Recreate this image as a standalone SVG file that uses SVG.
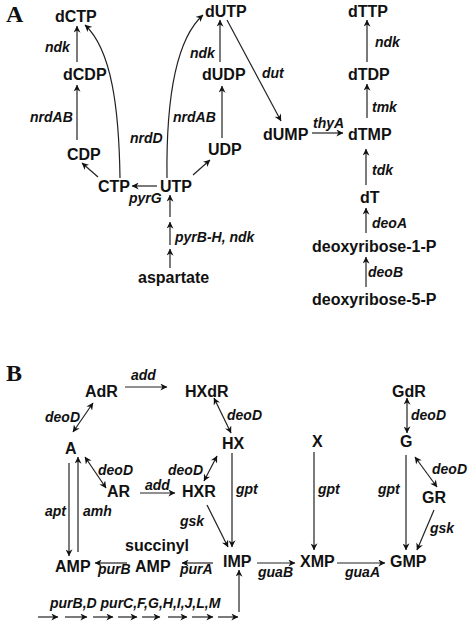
<svg xmlns="http://www.w3.org/2000/svg" width="474" height="626" viewBox="0 0 474 626">
<style>
.n{font-family:"Liberation Sans",Arial,sans-serif;font-weight:bold;font-size:16px;fill:#111}
.e{font-family:"Liberation Sans",Arial,sans-serif;font-weight:bold;font-style:italic;font-size:14px;fill:#111}
.p{font-family:"Liberation Serif","Times New Roman",serif;font-weight:bold;font-size:24px;fill:#111}
.c path,.c line{fill:none;stroke:#222;stroke-width:1.2}
.a{marker-end:url(#ah)}
.d{marker-start:url(#ah);marker-end:url(#ah)}
</style>
<defs>
<marker id="ah" viewBox="0 0 10 10" refX="9.5" refY="5" markerWidth="8" markerHeight="7" markerUnits="userSpaceOnUse" orient="auto-start-reverse">
<path d="M0,0 L10,5 L0,10 L3,5 z" fill="#111"/>
</marker>
</defs>
<rect width="474" height="626" fill="#fff"/>
<text class="p" x="6" y="22">A</text>
<text class="p" x="6" y="381">B</text>
<g class="c" id="connectors">
<line class="a" x1="77" y1="62" x2="77" y2="26"/>
<line class="a" x1="77" y1="140" x2="77" y2="85"/>
<line class="a" x1="98" y1="177" x2="82" y2="163"/>
<line class="a" x1="157" y1="186" x2="132" y2="186"/>
<line class="a" x1="193" y1="175" x2="210" y2="160"/>
<path class="a" d="M120,178 C119,110 112,50 85,25"/>
<path class="a" d="M167,178 C166,100 175,40 203,15"/>
<line class="a" x1="220" y1="62" x2="220" y2="20"/>
<line class="a" x1="222" y1="138" x2="222" y2="86"/>
<line class="a" x1="227" y1="20" x2="281" y2="121"/>
<line class="a" x1="312" y1="133" x2="343" y2="133"/>
<line class="a" x1="367" y1="62" x2="367" y2="20"/>
<line class="a" x1="367" y1="118" x2="367" y2="84"/>
<line class="a" x1="366" y1="185" x2="366" y2="149"/>
<line class="a" x1="366" y1="233" x2="366" y2="208"/>
<line class="a" x1="366" y1="287" x2="366" y2="257"/>
<line class="a" x1="170" y1="217" x2="170" y2="195"/>
<line class="a" x1="170" y1="245" x2="170" y2="222"/>
<line class="a" x1="170" y1="268" x2="170" y2="249"/>
<line class="a" x1="125" y1="387" x2="167" y2="387"/>
<line class="d" x1="93" y1="403" x2="73" y2="432"/>
<line class="d" x1="214" y1="398" x2="231" y2="433"/>
<line class="d" x1="85" y1="457" x2="106" y2="488"/>
<line class="a" x1="140" y1="493" x2="175" y2="493"/>
<line class="d" x1="204" y1="481" x2="217" y2="456"/>
<line class="a" x1="232" y1="453" x2="232" y2="547"/>
<line class="a" x1="207" y1="505" x2="228" y2="547"/>
<line class="a" x1="69" y1="463" x2="69" y2="556"/>
<line class="a" x1="78" y1="552" x2="78" y2="457"/>
<line class="a" x1="127" y1="563" x2="95" y2="563"/>
<line class="a" x1="213" y1="563" x2="182" y2="563"/>
<line class="a" x1="257" y1="563" x2="295" y2="563"/>
<line class="a" x1="337" y1="563" x2="385" y2="563"/>
<line class="a" x1="314" y1="452" x2="314" y2="550"/>
<line class="d" x1="407" y1="398" x2="407" y2="433"/>
<line class="a" x1="406" y1="455" x2="406" y2="550"/>
<line class="d" x1="415" y1="457" x2="437" y2="487"/>
<line class="a" x1="434" y1="510" x2="417" y2="550"/>
<line class="a" x1="38" y1="617" x2="58" y2="617"/>
<line class="a" x1="65" y1="617" x2="87" y2="617"/>
<line class="a" x1="93" y1="617" x2="113" y2="617"/>
<line class="a" x1="118" y1="617" x2="137" y2="617"/>
<line class="a" x1="142" y1="617" x2="160" y2="617"/>
<line class="a" x1="168" y1="617" x2="187" y2="617"/>
<line class="a" x1="192" y1="617" x2="213" y2="617"/>
<line class="a" x1="218" y1="617" x2="238" y2="617"/>
<line class="a" x1="239" y1="612" x2="239" y2="570"/>
</g>
<g id="labels">
<text class="e" x="45" y="52">ndk</text>
<text class="e" x="30" y="122">nrdAB</text>
<text class="e" x="130" y="143">nrdD</text>
<text class="e" x="129" y="203">pyrG</text>
<text class="e" x="173" y="122">nrdAB</text>
<text class="e" x="190" y="58">ndk</text>
<text class="e" x="262" y="78">dut</text>
<text class="e" x="313" y="128">thyA</text>
<text class="e" x="375" y="47">ndk</text>
<text class="e" x="372" y="112">tmk</text>
<text class="e" x="372" y="175">tdk</text>
<text class="e" x="372" y="228">deoA</text>
<text class="e" x="368" y="277">deoB</text>
<text class="e" x="175" y="242">pyrB-H, ndk</text>
<text class="e" x="131" y="380">add</text>
<text class="e" x="45" y="422">deoD</text>
<text class="e" x="98" y="475">deoD</text>
<text class="e" x="145" y="490">add</text>
<text class="e" x="168" y="475">deoD</text>
<text class="e" x="227" y="420">deoD</text>
<text class="e" x="236" y="494">gpt</text>
<text class="e" x="180" y="526">gsk</text>
<text class="e" x="45" y="516">apt</text>
<text class="e" x="83" y="516">amh</text>
<text class="e" x="98" y="574">purB</text>
<text class="e" x="180" y="574">purA</text>
<text class="e" x="258" y="577">guaB</text>
<text class="e" x="345" y="577">guaA</text>
<text class="e" x="318" y="494">gpt</text>
<text class="e" x="411" y="420">deoD</text>
<text class="e" x="378" y="494">gpt</text>
<text class="e" x="432" y="474">deoD</text>
<text class="e" x="430" y="533">gsk</text>
<text class="e" x="50" y="608">purB,D purC,F,G,H,I,J,L,M</text>
</g>
<g id="dCTP"><text class="n" x="55" y="22">dCTP</text></g>
<g id="dCDP"><text class="n" x="63" y="80">dCDP</text></g>
<g id="CDP"><text class="n" x="67" y="160">CDP</text></g>
<g id="CTP"><text class="n" x="98" y="192">CTP</text></g>
<g id="UTP"><text class="n" x="160" y="192">UTP</text></g>
<g id="UDP"><text class="n" x="208" y="155">UDP</text></g>
<g id="dUTP"><text class="n" x="205" y="17">dUTP</text></g>
<g id="dUDP"><text class="n" x="202" y="80">dUDP</text></g>
<g id="dUMP"><text class="n" x="263" y="140">dUMP</text></g>
<g id="dTMP"><text class="n" x="348" y="140">dTMP</text></g>
<g id="dTTP"><text class="n" x="348" y="17">dTTP</text></g>
<g id="dTDP"><text class="n" x="348" y="80">dTDP</text></g>
<g id="dT"><text class="n" x="360" y="203">dT</text></g>
<g id="deoxyribose-1-P"><text class="n" x="312" y="252">deoxyribose-1-P</text></g>
<g id="deoxyribose-5-P"><text class="n" x="312" y="305">deoxyribose-5-P</text></g>
<g id="aspartate"><text class="n" x="138" y="283">aspartate</text></g>
<g id="AdR"><text class="n" x="85" y="397">AdR</text></g>
<g id="HXdR"><text class="n" x="185" y="397">HXdR</text></g>
<g id="A"><text class="n" x="65" y="454">A</text></g>
<g id="AR"><text class="n" x="107" y="497">AR</text></g>
<g id="HXR"><text class="n" x="182" y="497">HXR</text></g>
<g id="HX"><text class="n" x="222" y="449">HX</text></g>
<g id="AMP"><text class="n" x="55" y="572">AMP</text></g>
<g id="succinylAMP"><text class="n" x="125" y="551">succinyl</text><text class="n" x="135" y="572">AMP</text></g>
<g id="IMP"><text class="n" x="223" y="567">IMP</text></g>
<g id="XMP"><text class="n" x="300" y="567">XMP</text></g>
<g id="GMP"><text class="n" x="390" y="567">GMP</text></g>
<g id="X"><text class="n" x="312" y="447">X</text></g>
<g id="GdR"><text class="n" x="392" y="397">GdR</text></g>
<g id="G"><text class="n" x="400" y="447">G</text></g>
<g id="GR"><text class="n" x="422" y="503">GR</text></g>
</svg>
